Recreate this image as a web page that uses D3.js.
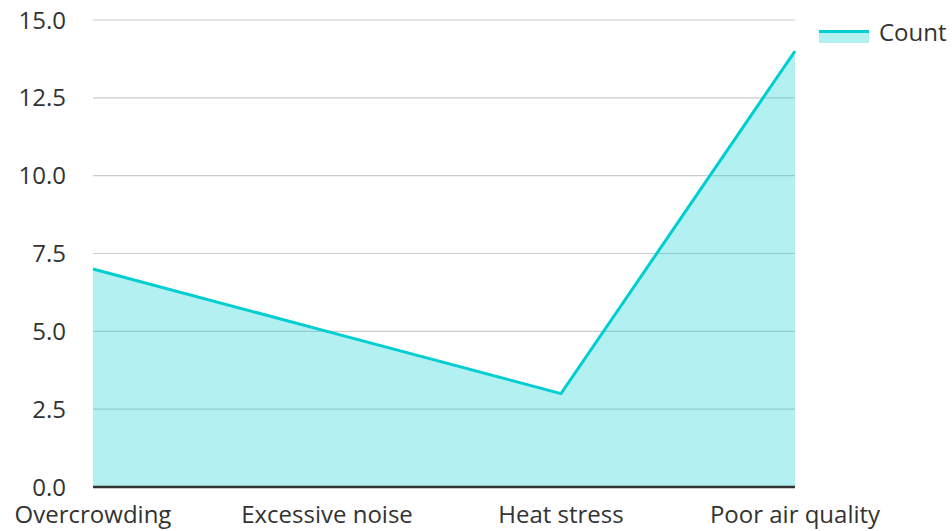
<!DOCTYPE html>
<html><head><meta charset="utf-8">
<script src="https://cdn.jsdelivr.net/npm/d3@7"></script>
<style>body{margin:0;background:#fff}text{font-family:"Open Sans",sans-serif;fill:#333}</style>
</head><body><svg id="c" width="952" height="531"></svg>
<script>
const categories = ["Overcrowding","Excessive noise","Heat stress","Poor air quality"];
const counts = [7, 5, 3, 14];
const yTicks = [0, 2.5, 5, 7.5, 10, 12.5, 15];
const seriesName = "Count";
const color = "#00CED1";

const svg = d3.select("#c");
const m = {l:93, r:157, t:20, b:44};
const W = 952, H = 531;
const x = d3.scalePoint().domain(categories).range([m.l, W - m.r]).padding(0);
const y = d3.scaleLinear().domain([0, 15]).range([H - m.b, m.t]);

svg.append("g").selectAll("line").data(yTicks.filter(d=>d>0)).join("line")
  .attr("x1", m.l).attr("x2", W - m.r)
  .attr("y1", d=>y(d)).attr("y2", d=>y(d))
  .attr("stroke", "#ccc").attr("stroke-width", 1.2);

const data = categories.map((c,i)=>({c, v:counts[i]}));
svg.append("path").datum(data)
  .attr("d", d3.area().x(d=>x(d.c)).y0(y(0)).y1(d=>y(d.v)))
  .attr("fill", color).attr("fill-opacity", 0.3);
svg.append("path").datum(data)
  .attr("d", d3.line().x(d=>x(d.c)).y(d=>y(d.v)))
  .attr("fill", "none").attr("stroke", color).attr("stroke-width", 3);

svg.append("line").attr("x1", m.l).attr("x2", W - m.r)
  .attr("y1", y(0)).attr("y2", y(0)).attr("stroke", "#333").attr("stroke-width", 2.5);

svg.append("g").selectAll("text").data(yTicks).join("text")
  .attr("x", 66).attr("y", d=>y(d)).attr("dy", "0.36em")
  .attr("text-anchor", "end").attr("font-size", 24)
  .text(d=>d3.format(".1f")(d));

svg.append("g").selectAll("text").data(categories).join("text")
  .attr("x", d=>x(d)).attr("y", 523)
  .attr("text-anchor", "middle").attr("font-size", 24)
  .text(d=>d);

const lg = svg.append("g").attr("transform","translate(819,30)");
lg.append("rect").attr("x",0).attr("y",0).attr("width",50).attr("height",13)
  .attr("fill", color).attr("fill-opacity", 0.3);
lg.append("line").attr("x1",0).attr("x2",50).attr("y1",1.5).attr("y2",1.5)
  .attr("stroke", color).attr("stroke-width", 3);
lg.append("text").attr("x", 60).attr("y", 2).attr("dy","0.36em").attr("font-size", 24).text(seriesName);
</script></body></html>
